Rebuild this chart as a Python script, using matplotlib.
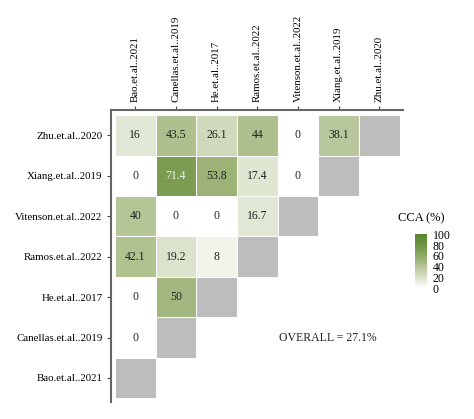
import numpy as np
import matplotlib.pyplot as plt
from matplotlib.colors import LinearSegmentedColormap, ListedColormap

plt.rcParams['font.family'] = ['Liberation Serif', 'DejaVu Serif']

cols = ['Bao.et.al..2021', 'Canellas.et.al..2019', 'He.et.al..2017', 'Ramos.et.al..2022',
        'Vitenson.et.al..2022', 'Xiang.et.al..2019', 'Zhu.et.al..2020']
rows = ['Zhu.et.al..2020', 'Xiang.et.al..2019', 'Vitenson.et.al..2022', 'Ramos.et.al..2022',
        'He.et.al..2017', 'Canellas.et.al..2019', 'Bao.et.al..2021']
zhu = [16, 43.5, 26.1, 44, 0, 38.1]
xiang = [0, 71.4, 53.8, 17.4, 0]
vitenson = [40, 0, 0, 16.7]
ramos = [42.1, 19.2, 8]
he = [0, 50]
canellas = [0]
bao = []
overall = 27.1

vals = [zhu, xiang, vitenson, ramos, he, canellas, bao]
n = len(cols)
M = np.full((n, n), np.nan)
D = np.full((n, n), np.nan)
for i, r in enumerate(vals):
    M[i, :len(r)] = r
    D[i, len(r)] = 1

cmap = LinearSegmentedColormap.from_list('g', [(0, '#ffffff'), (0.44, '#adbf8c'),
                                              (0.71, '#7d9c52'), (1, '#55852a')])

fig = plt.figure(figsize=(4.74, 4.19), dpi=100)
ax = fig.add_axes([0.234, 0.040, 0.616, 0.697])
x = np.arange(n + 1) - 0.5
mesh = ax.pcolormesh(x, x, np.ma.masked_invalid(M), cmap=cmap, vmin=0, vmax=100,
                     edgecolors='#f2f2f2', linewidth=0.7)
ax.pcolormesh(x, x, np.ma.masked_invalid(D), cmap=ListedColormap(['#bdbdbd']),
              edgecolors='white', linewidth=0.7)
for i, r in enumerate(vals):
    for j, v in enumerate(r):
        ax.text(j, i, f'{v:g}', ha='center', va='center', fontsize=8.5,
                color='#eef3e4' if v > 65 else '#222222')
ax.text(4.73, 5.02, f'OVERALL = {overall}%', ha='center', va='center', fontsize=8.5, color='#222222')

ax.set_xlim(-0.6, 6.58)
ax.set_ylim(6.6, -0.62)
ax.xaxis.tick_top()
ax.set_xticks(range(n))
ax.set_xticklabels(cols, rotation=90, fontsize=7.8)
ax.set_yticks(range(n))
ax.set_yticklabels(rows, fontsize=7.8)
ax.tick_params(length=3, width=0.8, color='#444444', pad=3)
for s in ['right', 'bottom']:
    ax.spines[s].set_visible(False)
for s in ['left', 'top']:
    ax.spines[s].set_color('#666666')
    ax.spines[s].set_linewidth(1.5)

cax = fig.add_axes([0.8755, 0.312, 0.0253, 0.129])
cb = fig.colorbar(mesh, cax=cax, ticks=[0, 20, 40, 60, 80, 100])
cb.outline.set_visible(False)
cax.tick_params(labelsize=8.5, length=2, color='white', pad=2)
cax.set_title('CCA (%)', fontsize=9, pad=9)

fig.savefig('out.png', dpi=100)
